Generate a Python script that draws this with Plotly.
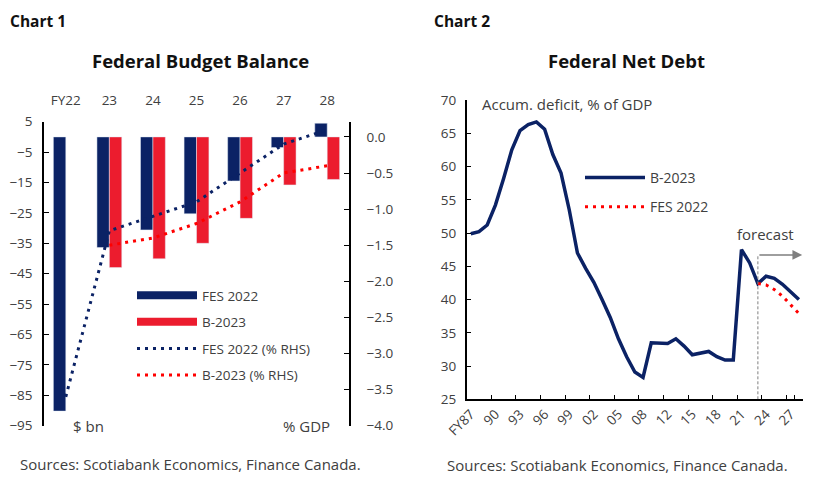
"""Federal Budget Balance / Federal Net Debt, side by side."""

import plotly.graph_objects as go

W, H = 828, 483
OFF = 8  # page margin of the browser around the figure
NAVY = "#0b2265"
RED = "#ec1c2e"
DOT_RED = "#ff0000"
GREY = "#7f7f7f"
TXT = "#404040"
FONT = "Open Sans"

# Chart 1: budget balance, $ bn (bars) and % of GDP (dotted, RHS)
fiscal_years = ["FY22", "23", "24", "25", "26", "27", "28"]
fes2022_bn = [-90.2, -36.4, -30.6, -25.3, -14.5, -3.5, 4.5]
b2023_bn = [None, -43.0, -40.1, -35.0, -26.8, -15.8, -14.0]
fes2022_gdp = [-3.6, -1.3, -1.1, -0.9, -0.5, -0.1, 0.1]
b2023_gdp = [None, -1.5, -1.4, -1.2, -0.9, -0.5, -0.4]

# Chart 2: federal net debt, % of GDP
debt_years = ["FY87", "88", "89", "90", "91", "92", "93", "94", "95", "96",
              "97", "98", "99", "00", "01", "02", "03", "04", "05", "06",
              "07", "08", "10", "11", "12", "13", "14", "15", "16", "17",
              "18", "19", "20", "21", "22", "23", "24", "25", "26", "27",
              "28"]
b2023_debt = [49.9, 50.2, 51.2, 54.2, 58.2, 62.5, 65.4, 66.3, 66.7, 65.6,
              61.8, 59.0, 53.5, 47.0, 44.7, 42.6, 40.0, 37.3, 34.1, 31.4,
              29.1, 28.3, 33.5, 33.5, 33.4, 34.1, 33.0, 31.7, 31.9, 32.2,
              31.4, 30.9, 30.9, 47.5, 45.5, 42.4, 43.5, 43.2, 42.3, 41.2,
              40.0]
fes2022_debt = [None] * 35 + [42.4, 42.2, 41.5, 40.5, 39.2, 37.9]
forecast_start = "23"


def px(x):
  return (x - OFF) / W


def py(y):
  return 1 - (y - OFF) / H


# plot areas in screen pixels
c1_x = [px(44), px(349)]
c1_y = [py(425.7), py(121.7)]
c2_x = [px(466.7), px(803)]
c2_y = [py(399.3), py(100)]

lhs_range = [-95, 5]
rhs_range = [-4, 4 * 5 / 95]
zero_pos = c1_y[0] + (0 - lhs_range[0]) / (lhs_range[1] - lhs_range[0]) * (c1_y[1] - c1_y[0])

fig = go.Figure()

# --- chart 1
fig.add_trace(go.Bar(x=fiscal_years, y=fes2022_bn, marker_color=NAVY,
                     showlegend=False, xaxis="x", yaxis="y"))
fig.add_trace(go.Bar(x=fiscal_years, y=b2023_bn, marker_color=RED,
                     showlegend=False, xaxis="x", yaxis="y"))
fig.add_trace(go.Scatter(x=fiscal_years, y=fes2022_gdp, mode="lines",
                         line=dict(color=NAVY, width=3, dash="3px,5px"),
                         showlegend=False, xaxis="x", yaxis="y2"))
fig.add_trace(go.Scatter(x=fiscal_years, y=b2023_gdp, mode="lines",
                         line=dict(color=DOT_RED, width=3, dash="3px,5px"),
                         showlegend=False, xaxis="x", yaxis="y2"))

# legend entries (no data, only the key)
legend1 = [("FES 2022", NAVY, 8, "solid"), ("B-2023", RED, 8, "solid"),
           ("FES 2022 (% RHS)", NAVY, 3, "3px,5px"),
           ("B-2023 (% RHS)", DOT_RED, 3, "3px,5px")]
for name, color, width, dash in legend1:
  fig.add_trace(go.Scatter(x=[None], y=[None], mode="lines", name=name,
                           line=dict(color=color, width=width, dash=dash),
                           legend="legend", legendgroup=name,
                           xaxis="x", yaxis="y"))

# --- chart 2
fig.add_trace(go.Scatter(x=debt_years, y=b2023_debt, mode="lines", name="B-2023",
                         line=dict(color=NAVY, width=3.5),
                         legend="legend2", legendgroup="b2",
                         xaxis="x2", yaxis="y3"))
fig.add_trace(go.Scatter(x=debt_years, y=fes2022_debt, mode="lines", name="FES 2022",
                         line=dict(color=DOT_RED, width=3, dash="3px,5px"),
                         legend="legend2", legendgroup="f2",
                         xaxis="x2", yaxis="y3"))

fs = debt_years.index(forecast_start)
arrow_y = 46.7
fig.add_shape(type="line", xref="x2", yref="y3", x0=fs, x1=fs, y0=25, y1=arrow_y,
              line=dict(color=GREY, width=1, dash="3px,2px"))
fig.add_annotation(xref="x2", yref="y3", axref="x2", ayref="y3",
                   x=len(debt_years) - 0.6, y=arrow_y, ax=fs, ay=arrow_y,
                   text="", showarrow=True, arrowhead=2, arrowsize=1.3,
                   arrowwidth=1.5, arrowcolor=GREY)

tick_font = dict(family=FONT, size=13.5, color=TXT)
axis_common = dict(showline=True, linecolor="#000000", linewidth=1.5,
                   ticks="inside", ticklen=5, tickcolor="#000000",
                   showgrid=False, zeroline=False, automargin=False,
                   tickfont=tick_font)

fig.update_layout(
    width=W, height=H,
    margin=dict(l=0, r=0, t=0, b=0, autoexpand=False),
    paper_bgcolor="white", plot_bgcolor="white",
    font=dict(family=FONT, size=13, color=TXT),
    barmode="group", bargap=0.43, bargroupgap=0,
    xaxis=dict(domain=c1_x, anchor="y", side="top", type="category",
               showline=False, ticks="", showgrid=False, automargin=False,
               ticklabelstandoff=13, tickfont=tick_font, range=[-0.5, 6.5]),
    xaxis3=dict(domain=c1_x, overlaying="x", anchor="free", position=zero_pos,
                range=[-0.5, 6.5], tickmode="array", tickvals=[1.5, 3.5, 5.5],
                showticklabels=False, **axis_common),
    yaxis=dict(domain=c1_y, anchor="x", range=lhs_range, tick0=5, dtick=10,
               ticklabelstandoff=7, **axis_common),
    yaxis2=dict(overlaying="y", side="right", anchor="x", range=rhs_range,
                tick0=0, dtick=0.5, tickformat=".1f", ticklabelstandoff=13,
                **axis_common),
    xaxis2=dict(domain=c2_x, anchor="y3", type="category",
                range=[-0.5, len(debt_years) - 0.5],
                tickmode="array", tickvals=debt_years[::3], tickson="boundaries",
                tickangle=-45, **axis_common),
    yaxis3=dict(domain=c2_y, anchor="x2", range=[25, 70], dtick=5,
                ticklabelstandoff=6, **axis_common),
    legend=dict(x=px(132), y=py(280), xanchor="left", yanchor="top",
                bgcolor="rgba(0,0,0,0)", itemwidth=60, tracegroupgap=6,
                font=dict(family=FONT, size=13.5, color=TXT)),
    legend2=dict(x=px(580), y=py(162), xanchor="left", yanchor="top",
                 bgcolor="rgba(0,0,0,0)", itemwidth=60, tracegroupgap=8,
                 font=dict(family=FONT, size=14, color=TXT)),
)

texts = [
    ("Chart 1", 8, 8, "left", "top", 15.5, True),
    ("Chart 2", 432, 8, "left", "top", 15.5, True),
    ("Federal Budget Balance", 200, 60, "center", "middle", 18.5, True),
    ("Federal Net Debt", 626, 60, "center", "middle", 18.5, True),
    ("$ bn", 88, 426, "center", "middle", 15, False),
    ("% GDP", 306, 426, "center", "middle", 15, False),
    ("Accum. deficit, % of GDP", 480, 104, "left", "middle", 15, False),
    ("forecast", 765, 234, "center", "middle", 15, False),
    ("Sources: Scotiabank Economics, Finance Canada.", 18, 464, "left", "middle", 15, False),
    ("Sources: Scotiabank Economics, Finance Canada.", 445, 465, "left", "middle", 15, False),
]
for text, x, y, xanchor, yanchor, size, bold in texts:
  fig.add_annotation(xref="paper", yref="paper", x=px(x), y=py(y),
                     xanchor=xanchor, yanchor=yanchor, showarrow=False,
                     text="<b>%s</b>" % text if bold else text,
                     font=dict(family=FONT, size=size,
                               color="#111111" if bold else TXT))

fig.write_html("out.html")
